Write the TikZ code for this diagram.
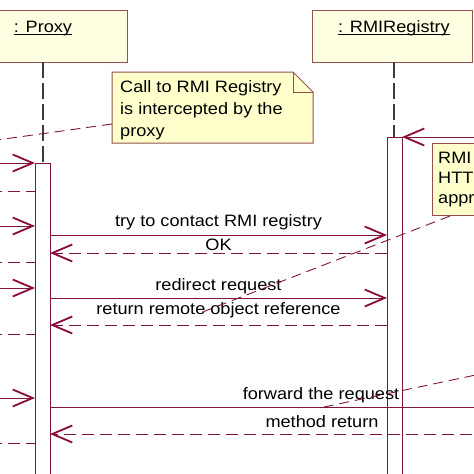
\documentclass[tikz,border=0pt]{standalone}
\usepackage{fontspec}
\setmainfont{Liberation Sans}[FakeStretch=1.1]
\usetikzlibrary{arrows.meta}
\definecolor{msg}{RGB}{128,20,60}
\definecolor{arrowc}{RGB}{140,10,60}
\definecolor{boxborder}{RGB}{150,80,80}
\definecolor{boxfill}{RGB}{255,255,225}
\definecolor{notefill}{RGB}{255,255,204}
\definecolor{lifec}{RGB}{60,60,60}
\begin{document}
\begin{tikzpicture}[x=1pt,y=-1pt,
  every node/.style={font=\fontsize{16.5}{22}\selectfont, inner sep=0pt},
  obj/.style={draw=boxborder, fill=boxfill, line width=1pt},
  notebox/.style={draw=boxborder, fill=notefill, line width=1pt},
  act/.style={draw=msg, fill=white, line width=1pt},
  life/.style={draw=lifec, line width=1.2pt, dash pattern=on 16pt off 5pt},
  msgline/.style={draw=msg, line width=1pt},
  call/.style={msgline, -{Straight Barb[length=20pt,width=17pt,line width=1.8pt,color=arrowc]}},
  retline/.style={msgline, dash pattern=on 12pt off 6pt},
  ret/.style={retline, -{Straight Barb[length=20pt,width=17pt,line width=1.8pt,color=arrowc]}},
  notelink/.style={draw=msg, line width=0.9pt, dash pattern=on 10pt off 6pt},
  lbl/.style={anchor=base}
]
\useasboundingbox (0,0) rectangle (474,474);
\clip (0,0) rectangle (474,474);
\fill[white] (0,0) rectangle (474,474);

% object headers
\draw[obj] (-60,10) rectangle (127,62);
\node[anchor=base] (proxyname) at (43,32) {: Proxy};
\draw[line width=0.9pt] ([yshift=-2.5pt]proxyname.base west) -- ([yshift=-2.5pt]proxyname.base east);
\draw[obj] (312,10) rectangle (472,62);
\node[anchor=base] (rminame) at (394,32) {: RMIRegistry};
\draw[line width=0.9pt] ([yshift=-2.5pt]rminame.base west) -- ([yshift=-2.5pt]rminame.base east);

% lifelines
\coordinate (pl0) at (43,62); \coordinate (pl1) at (43,163);
\coordinate (rl0) at (394,62); \coordinate (rl1) at (394,137);
\draw[life] (pl0) -- (pl1);
\draw[life] (rl0) -- (rl1);

% activations
\draw[act] (35,163) rectangle (50,490);
\draw[act] (387,137) rectangle (402,490);

% messages from the left
\foreach \yy/\nm in {163/a,226/b,288/c,398/d}{
  \coordinate (Lc\nm) at (-10,\yy); \coordinate (Pc\nm) at (35,\yy);
  \draw[call] (Lc\nm) -- (Pc\nm);
}
\foreach \yy/\nm in {191/a,262/b,334/c,443/d}{
  \coordinate (Lr\nm) at (-10,\yy); \coordinate (Pr\nm) at (35,\yy);
  \draw[retline] (Lr\nm) -- (Pr\nm);
}

% proxy <-> registry
\coordinate (p1) at (50,235); \coordinate (r1) at (387,235);
\coordinate (p2) at (50,253); \coordinate (r2) at (387,253);
\coordinate (p3) at (50,298); \coordinate (r3) at (387,298);
\coordinate (p4) at (50,325); \coordinate (r4) at (387,325);
\coordinate (p5) at (50,407); \coordinate (e5) at (490,407);
\coordinate (p6) at (50,434); \coordinate (e6) at (490,434);
\coordinate (e0) at (490,137); \coordinate (r0) at (402,137);

\draw[call] (e0) -- (r0);
\draw[call] (p1) -- (r1);
\node[lbl] (m1) at (218.5,226) {try to contact RMI registry};
\draw[ret] (r2) -- (p2);
\node[lbl] (m2) at (218.5,250) {OK};
\draw[call] (p3) -- (r3);
\node[lbl] (m3) at (218.5,290) {redirect request};
\draw[ret] (r4) -- (p4);
\node[lbl] (m4) at (218.5,314) {return remote object reference};
\draw[msgline] (p5) -- (e5);
\node[lbl] (m5) at (321,399) {forward the request};
\draw[ret] (e6) -- (p6);
\node[lbl] (m6) at (322,427) {method return};

% note 1
\draw[notebox] (112,72) -- (293,72) -- (313,92) -- (313,143) -- (112,143) -- cycle;
\draw[boxborder, line width=1pt] (293,72) -- (293,92) -- (313,92);
\node[anchor=base west] (note1) at (120,92) {\begin{tabular}[t]{@{}l@{}}Call to RMI Registry\\is intercepted by the\\proxy\end{tabular}};
\coordinate (n1a) at (112,124); \coordinate (n1b) at (-10,141);
\draw[notelink] (n1a) -- (n1b);

% note 2
\draw[notebox] (432,143) rectangle (490,215);
\node[anchor=base west, font=\fontsize{16.5}{20}\selectfont] (note2) at (438,163) {\begin{tabular}[t]{@{}l@{}}RMI\\HTT\\appr\end{tabular}};
\coordinate (n2a) at (450,216); \coordinate (n2b) at (200,313);
\draw[notelink] (n2a) -- (n2b);

% link from off-picture note
\coordinate (n3a) at (490,372); \coordinate (n3b) at (324,407);
\draw[notelink] (n3a) -- (n3b);
\end{tikzpicture}
\end{document}
